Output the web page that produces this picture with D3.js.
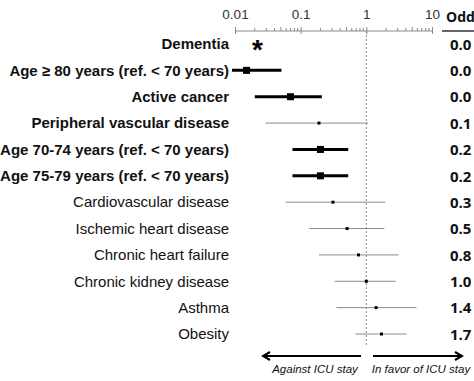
<!DOCTYPE html>
<html>
<head>
<meta charset="utf-8">
<script src="https://cdn.jsdelivr.net/npm/d3@7"></script>
<style>
  html, body { margin: 0; padding: 0; background: #fff; overflow: hidden; }
  svg { display: block; }
</style>
</head>
<body>
<svg id="chart" width="474" height="381"></svg>
<script>
// ---- data ----
const categories = [
  "Dementia",
  "Age \u2265 80 years (ref. < 70 years)",
  "Active cancer",
  "Peripheral vascular disease",
  "Age 70-74 years (ref. < 70 years)",
  "Age 75-79 years (ref. < 70 years)",
  "Cardiovascular disease",
  "Ischemic heart disease",
  "Chronic heart failure",
  "Chronic kidney disease",
  "Asthma",
  "Obesity"
];
const boldLabel   = [true, true, true, true, true, true, false, false, false, false, false, false];
const heavyMarker = [false, true, true, false, true, true, false, false, false, false, false, false];
const oddsRatio = [null, 0.015, 0.070, 0.19, 0.20, 0.20, 0.31, 0.51, 0.76, 1.00, 1.41, 1.70];
const ciLower   = [null, 0.009, 0.020, 0.029, 0.075, 0.075, 0.059, 0.135, 0.19, 0.33, 0.35, 0.68];
const ciUpper   = [null, 0.051, 0.21, 1.07, 0.53, 0.53, 1.95, 1.88, 3.1, 2.8, 5.8, 4.1];
// right-hand column, as far as it is visible in the picture
const orLabels  = ["0.0", "0.0", "0.0", "0.1", "0.2", "0.2", "0.3", "0.5", "0.8", "1.0", "1.4", "1.7"];
const columnHeader = "Odd";
const asteriskValue = 0.022;   // Dementia: no estimate, marked with *
const tickValues = [0.01, 0.1, 1, 10];
const tickLabels = ["0.01", "0.1", "1", "10"];
const arrowLabels = ["Against ICU stay", "In favor of ICU stay"];

// ---- layout ----
const svg = d3.select("#chart");
const font = "'Liberation Sans', Arial, Helvetica, sans-serif";
const colFont = "'Open Sans', 'Noto Sans', sans-serif";

const x = d3.scaleLog().domain([0.01, 10]).range([235, 432]);
const y = d3.scalePoint().domain(categories).range([44, 334]);
const axisY = 31;

// minor ticks
const minorTicks = [];
for (let d = 0.01; d < 10; d *= 10) {
  for (let k = 2; k <= 9; k++) minorTicks.push(+(d * k).toPrecision(3));
}

const axisG = svg.append("g").attr("transform", `translate(0,${axisY})`);
const axis = d3.axisTop(x).tickValues(tickValues)
  .tickFormat((d, i) => tickLabels[i]).tickSize(4).tickPadding(8);
axisG.call(axis);
axisG.select(".domain").attr("stroke", "#8a8a8a").attr("d", `M${x(0.01)},0H${x(10)}`);
axisG.selectAll(".tick line").attr("stroke", "#8a8a8a").attr("y1", 3).attr("y2", -4);
axisG.selectAll(".tick text")
  .attr("font-family", font).attr("font-size", 13.5).attr("fill", "#333");
axisG.selectAll(".minor").data(minorTicks).enter().append("line")
  .attr("class", "minor")
  .attr("x1", d => x(d)).attr("x2", d => x(d))
  .attr("y1", 0).attr("y2", (d, i) => (i % 8 === 3 ? -4 : -3))
  .attr("stroke", "#8a8a8a").attr("stroke-width", 1);

// reference line at 1
svg.append("line")
  .attr("x1", x(1)).attr("x2", x(1))
  .attr("y1", axisY).attr("y2", 346)
  .attr("stroke", "#8a8a8a").attr("stroke-width", 1)
  .attr("stroke-dasharray", "2,2");

// row labels
svg.append("g").selectAll("text").data(categories).enter().append("text")
  .attr("x", 229)
  .attr("y", d => y(d))
  .attr("dy", "0.35em")
  .attr("text-anchor", "end")
  .attr("font-family", font)
  .attr("font-size", 15)
  .attr("font-weight", (d, i) => boldLabel[i] ? "bold" : "normal")
  .attr("fill", "#111")
  .text(d => d);

// CI lines
const rows = categories.map((c, i) => ({c, i, or: oddsRatio[i], lo: ciLower[i], hi: ciUpper[i], heavy: heavyMarker[i]}))
  .filter(r => r.or !== null);

svg.append("g").selectAll("line").data(rows).enter().append("line")
  .attr("x1", r => x(r.lo)).attr("x2", r => x(r.hi))
  .attr("y1", r => y(r.c)).attr("y2", r => y(r.c))
  .attr("stroke", r => r.heavy ? "#000" : "#8a8a8a")
  .attr("stroke-width", r => r.heavy ? 3 : 1);

// point markers
svg.append("g").selectAll("rect").data(rows).enter().append("rect")
  .attr("x", r => x(r.or) - (r.heavy ? 3.5 : 1.5))
  .attr("y", r => y(r.c) - (r.heavy ? 3.5 : 1.5))
  .attr("width", r => r.heavy ? 7 : 3)
  .attr("height", r => r.heavy ? 7 : 3)
  .attr("fill", "#000");

// asterisk for Dementia
svg.append("text")
  .attr("x", x(asteriskValue)).attr("y", y(categories[0]) + 15)
  .attr("text-anchor", "middle")
  .attr("font-family", font).attr("font-size", 28).attr("font-weight", "bold")
  .attr("fill", "#000")
  .text("*");

// right column
svg.append("text")
  .attr("x", 446).attr("y", 22)
  .attr("font-family", colFont).attr("font-size", 14).attr("font-weight", "bold")
  .attr("fill", "#111")
  .text(columnHeader);
svg.append("line")
  .attr("x1", 442).attr("x2", 474).attr("y1", 31).attr("y2", 31)
  .attr("stroke", "#111").attr("stroke-width", 1.3);
svg.append("g").selectAll("text").data(categories).enter().append("text")
  .attr("x", 450)
  .attr("y", d => y(d))
  .attr("dy", "0.38em")
  .attr("font-family", colFont).attr("font-size", 15).attr("font-weight", "bold")
  .attr("fill", "#111")
  .text((d, i) => orLabels[i]);

// arrows
const defs = svg.append("defs");
defs.append("marker").attr("id", "arr")
  .attr("viewBox", "0 0 10 10").attr("refX", 8).attr("refY", 5)
  .attr("markerWidth", 5).attr("markerHeight", 5).attr("orient", "auto")
  .append("path").attr("d", "M1,1 L8,5 L1,9").attr("fill", "none").attr("stroke", "#000").attr("stroke-width", 2.2);

const arrowY = 356;
svg.append("line").attr("x1", 361).attr("x2", 263).attr("y1", arrowY).attr("y2", arrowY)
  .attr("stroke", "#000").attr("stroke-width", 2).attr("marker-end", "url(#arr)");
svg.append("line").attr("x1", 373).attr("x2", 462).attr("y1", arrowY).attr("y2", arrowY)
  .attr("stroke", "#000").attr("stroke-width", 2).attr("marker-end", "url(#arr)");
svg.append("text").attr("x", 315).attr("y", 373).attr("text-anchor", "middle")
  .attr("font-family", font).attr("font-size", 11.5).attr("font-style", "italic").attr("fill", "#111")
  .text(arrowLabels[0]);
svg.append("text").attr("x", 421).attr("y", 373).attr("text-anchor", "middle")
  .attr("font-family", font).attr("font-size", 11.5).attr("font-style", "italic").attr("fill", "#111")
  .text(arrowLabels[1]);
</script>
</body>
</html>
